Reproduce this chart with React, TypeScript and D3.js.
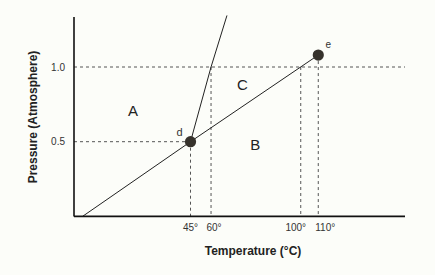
import React from "react";
import * as d3 from "d3";

// Schematic phase diagram data
const tempStops = [0, 45, 60, 100, 110, 150];          // temperature breakpoints (°C)
const tempFrac = [0, 0.352, 0.414, 0.685, 0.738, 1.0];  // relative axis position of each breakpoint
const pressureTicks = [0.5, 1.0];
const tempTicks = [45, 60, 100, 110];
const tempTickLabels = ["45°", "60°", "100°", "110°"];
const tempTickOffsets = [0, 3, -5, 7];

// boundary between B and A/C (sublimation/vaporization curve)
const lowerCurveT = [3.3, 45, 110];
const lowerCurveP = [0, 0.5, 1.08];
// boundary between A and C (melting curve)
const steepCurveT = [45, 60, 67.1];
const steepCurveP = [0.5, 1.0, 1.345];

const points = [
  { name: "d", t: 45, p: 0.5 },
  { name: "e", t: 110, p: 1.08 },
];
const regions = [
  { name: "A", t: 22.8, p: 0.71 },
  { name: "C", t: 74, p: 0.88 },
  { name: "B", t: 79.7, p: 0.48 },
];

export default function App() {
  const W = 435, H = 275;
  const x0 = 74, x1 = 405, y0 = 216.4, yTop = 17;
  const xScale = d3
    .scaleLinear()
    .domain(tempStops)
    .range(tempFrac.map((f) => x0 + f * (x1 - x0)));
  const yScale = d3.scaleLinear().domain([0, 0.5]).range([y0, 141.7]);

  const line = d3
    .line<[number, number]>()
    .x((d) => xScale(d[0]))
    .y((d) => yScale(d[1]));

  const lower = line(lowerCurveT.map((t, i) => [t, lowerCurveP[i]]));
  const steep = line(steepCurveT.map((t, i) => [t, steepCurveP[i]]));

  const dash = "3,3";
  const dashColor = "#555";
  const font = "Liberation Sans, Arial, Helvetica, sans-serif";

  const d = points[0];
  const e = points[1];

  return (
    <svg
      width={W}
      height={H}
      style={{ position: "absolute", left: 0, top: 0, background: "#fcfdf9" }}
      fontFamily={font}
    >
      <rect width={W} height={H} fill="#fcfdf9" />
      {/* dashed guides */}
      <g stroke={dashColor} strokeWidth={1} strokeDasharray={dash} fill="none">
        <line x1={x0} x2={x1} y1={yScale(1.0)} y2={yScale(1.0)} />
        <line x1={x0} x2={xScale(d.t)} y1={yScale(0.5)} y2={yScale(0.5)} />
        <line x1={xScale(45)} x2={xScale(45)} y1={yScale(0.5)} y2={y0} />
        <line x1={xScale(60)} x2={xScale(60)} y1={yScale(1.0)} y2={y0} />
        <line x1={xScale(100)} x2={xScale(100)} y1={yScale(1.0)} y2={y0} />
        <line x1={xScale(110)} x2={xScale(110)} y1={yScale(e.p)} y2={y0} />
      </g>
      {/* curves */}
      <path d={lower ?? ""} stroke="#222" strokeWidth={1} fill="none" />
      <path d={steep ?? ""} stroke="#222" strokeWidth={1} fill="none" />
      {/* axes */}
      <line x1={x0} x2={x0} y1={yTop} y2={y0} stroke="#111" strokeWidth={1.6} />
      <line x1={x0} x2={x1} y1={y0} y2={y0} stroke="#111" strokeWidth={1.6} />
      {/* points */}
      {points.map((pt) => (
        <circle key={pt.name} cx={xScale(pt.t)} cy={yScale(pt.p)} r={5.6} fill="#36322c" />
      ))}
      <text x={xScale(d.t) - 11} y={yScale(d.p) - 6} fontSize={11} fill="#333" textAnchor="middle">
        d
      </text>
      <text x={xScale(e.t) + 10} y={yScale(e.p) - 7} fontSize={10} fill="#333" textAnchor="middle">
        e
      </text>
      {/* region labels */}
      {regions.map((r) => (
        <text
          key={r.name}
          x={xScale(r.t)}
          y={yScale(r.p)}
          fontSize={15}
          fill="#222"
          textAnchor="middle"
          dominantBaseline="central"
        >
          {r.name}
        </text>
      ))}
      {/* y ticks */}
      {pressureTicks.map((p) => (
        <text
          key={p}
          x={65}
          y={yScale(p)}
          fontSize={10}
          fill="#333"
          textAnchor="end"
          dominantBaseline="central"
        >
          {p.toFixed(1)}
        </text>
      ))}
      {/* x ticks */}
      {tempTicks.map((t, i) => (
        <text
          key={t}
          x={xScale(t) + tempTickOffsets[i]}
          y={231}
          fontSize={10}
          fill="#333"
          textAnchor="middle"
        >
          {tempTickLabels[i]}
        </text>
      ))}
      {/* axis titles */}
      <text x={253} y={255} fontSize={12} fontWeight="bold" fill="#222" textAnchor="middle">
        Temperature (°C)
      </text>
      <text
        transform={`translate(37,117) rotate(-90)`}
        fontSize={12}
        fontWeight="bold"
        fill="#222"
        textAnchor="middle"
      >
        Pressure (Atmosphere)
      </text>
    </svg>
  );
}
